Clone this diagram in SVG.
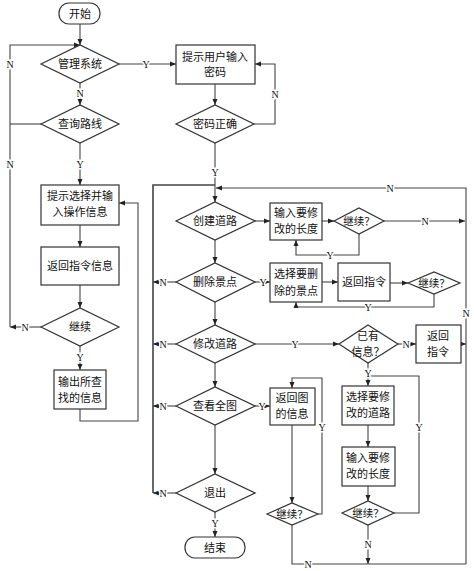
<svg xmlns="http://www.w3.org/2000/svg" width="474" height="571" viewBox="0 0 474 571">
<defs>
<marker id="a" markerWidth="6" markerHeight="6" refX="6" refY="3" orient="auto" markerUnits="userSpaceOnUse"><path d="M0,0.5 L6,3 L0,5.5 z" fill="#222"/></marker>
<style>
.n rect,.n polygon{fill:#fff;stroke:#333;stroke-width:1.2}
.n text{font-family:"Noto Sans CJK SC","Liberation Sans",sans-serif;font-size:11px;fill:#111;text-anchor:middle}
.n text.s{font-size:10.5px}
.c path{fill:none;stroke:#444;stroke-width:1.1}
.c path.ar{marker-end:url(#a)}
.l text{font-family:"Liberation Serif",serif;font-size:10px;fill:#111;text-anchor:middle;stroke:#fff;stroke-width:3;paint-order:stroke}
</style>
</defs>
<rect width="474" height="571" fill="#fff"/>
<g class="c">
<path class="ar" d="M80,24 V45"/>
<path class="ar" d="M80,83 V105"/>
<path class="ar" d="M119,64 H176"/>
<path class="ar" d="M80,143 V185"/>
<path d="M41,124 H10"/>
<path class="ar" d="M41,327 H10"/>
<path class="ar" d="M10,327 V45 H80"/>
<path class="ar" d="M80,225 V247"/>
<path class="ar" d="M80,285 V308"/>
<path class="ar" d="M80,346 V370"/>
<path class="ar" d="M80,409 V421 H138 V203 H119"/>
<path class="ar" d="M215,84 V105"/>
<path class="ar" d="M254,124 H275 V64 H255"/>
<path class="ar" d="M215,143 V202"/>
<path d="M153,493 V185 H215" style="stroke-width:1.6"/>
<path class="ar" d="M176,282 H153"/>
<path class="ar" d="M176,344 H153"/>
<path class="ar" d="M176,406 H153"/>
<path class="ar" d="M176,493 H153"/>
<path class="ar" d="M255,221 H270"/>
<path class="ar" d="M322,221 H334"/>
<path class="ar" d="M384,221 H465"/>
<path class="ar" d="M359,234 V255 H296 V240"/>
<path class="ar" d="M215,240 V263"/>
<path class="ar" d="M255,282 H270"/>
<path class="ar" d="M322,282 H338"/>
<path class="ar" d="M390,283 H408"/>
<path class="ar" d="M434,294 V307 H296 V302"/>
<path class="ar" d="M215,302 V325"/>
<path class="ar" d="M255,344 H339"/>
<path class="ar" d="M398,344 H416"/>
<path class="ar" d="M461,344 H466"/>
<path class="ar" d="M368,363 V386"/>
<path class="ar" d="M368,425 V447"/>
<path class="ar" d="M368,486 V501"/>
<path d="M394,513 H419 V376 H368"/>
<path class="ar" d="M368,525 V564"/>
<path class="ar" d="M215,363 V387"/>
<path class="ar" d="M255,406 H270"/>
<path class="ar" d="M292,425 V503"/>
<path class="ar" d="M318,514 H322 V378 H292 V388"/>
<path d="M292,525 V564 H466"/>
<path class="ar" d="M466,564 V188 H216"/>
<path class="ar" d="M215,425 V474"/>
<path class="ar" d="M215,512 V537"/>
</g>
<g class="l">
<text x="80" y="97">N</text>
<text x="146" y="68">Y</text>
<text x="80" y="168">Y</text>
<text x="10" y="68">N</text>
<text x="10" y="168">N</text>
<text x="25" y="331">N</text>
<text x="80" y="361">Y</text>
<text x="275" y="98">N</text>
<text x="215" y="176">Y</text>
<text x="163" y="286">N</text>
<text x="163" y="348">N</text>
<text x="163" y="410">N</text>
<text x="163" y="497">N</text>
<text x="425" y="225">N</text>
<text x="330" y="259">Y</text>
<text x="263" y="286">Y</text>
<text x="368" y="311">Y</text>
<text x="295" y="348">Y</text>
<text x="406" y="348">N</text>
<text x="368" y="377">Y</text>
<text x="419" y="431">Y</text>
<text x="368" y="548">N</text>
<text x="262" y="410">Y</text>
<text x="322" y="431">Y</text>
<text x="308" y="567.5">N</text>
<text x="390" y="192">N</text>
<text x="466" y="317">N</text>
<text x="215" y="527">Y</text>
</g>
<g class="n" id="start"><rect x="59" y="3" width="41" height="21" rx="10"/><text x="80" y="17.5">开始</text></g>
<g class="n" id="d1"><polygon points="41,64 80,45 119,64 80,83"/><text x="80" y="68">管理系统</text></g>
<g class="n" id="d2"><polygon points="41,124 80,105 119,124 80,143"/><text x="80" y="128">查询路线</text></g>
<g class="n" id="b1"><rect x="41" y="185" width="78" height="40"/><text x="80" y="200">提示选择并输</text><text x="80" y="216">入操作信息</text></g>
<g class="n" id="b2"><rect x="41" y="247" width="78" height="38"/><text x="80" y="270">返回指令信息</text></g>
<g class="n" id="d3"><polygon points="41,327 80,308 119,327 80,346"/><text x="80" y="331">继续</text></g>
<g class="n" id="b3"><rect x="54" y="370" width="52" height="39"/><text x="80" y="386">输出所查</text><text x="80" y="402">找的信息</text></g>
<g class="n" id="b4"><rect x="176" y="45" width="79" height="39"/><text x="215" y="61">提示用户输入</text><text x="215" y="76">密码</text></g>
<g class="n" id="d4"><polygon points="176,124 215,105 254,124 215,143"/><text x="215" y="128">密码正确</text></g>
<g class="n" id="d5"><polygon points="176,221 215,202 255,221 215,240"/><text x="215" y="225">创建道路</text></g>
<g class="n" id="b5"><rect x="270" y="203" width="52" height="37"/><text x="296" y="217">输入要修</text><text x="296" y="233">改的长度</text></g>
<g class="n" id="d6"><polygon points="334,221 359,208 384,221 359,234"/><text class="s" x="359" y="225">继续？</text></g>
<g class="n" id="d7"><polygon points="176,282 215,263 255,282 215,302"/><text x="215" y="286">删除景点</text></g>
<g class="n" id="b6"><rect x="270" y="263" width="52" height="39"/><text x="296" y="278">选择要删</text><text x="296" y="295">除的景点</text></g>
<g class="n" id="b7"><rect x="338" y="263" width="52" height="38"/><text x="364" y="286">返回指令</text></g>
<g class="n" id="d8"><polygon points="408,283 434,272 460,283 434,294"/><text class="s" x="434" y="287">继续？</text></g>
<g class="n" id="d9"><polygon points="176,344 215,325 255,344 215,363"/><text x="215" y="348">修改道路</text></g>
<g class="n" id="d10"><polygon points="339,344 368,325 398,344 368,363"/><text x="368" y="340">已有</text><text x="368" y="356">信息？</text></g>
<g class="n" id="b8"><rect x="416" y="325" width="45" height="38"/><text x="438" y="340">返回</text><text x="438" y="356">指令</text></g>
<g class="n" id="b9"><rect x="342" y="386" width="52" height="39"/><text x="368" y="401">选择要修</text><text x="368" y="417">改的道路</text></g>
<g class="n" id="b10"><rect x="342" y="447" width="53" height="39"/><text x="368" y="462">输入要修</text><text x="368" y="478">改的长度</text></g>
<g class="n" id="d11"><polygon points="342,513 368,501 394,513 368,525"/><text class="s" x="368" y="517">继续？</text></g>
<g class="n" id="d12"><polygon points="176,406 215,387 255,406 215,425"/><text x="215" y="410">查看全图</text></g>
<g class="n" id="b11"><rect x="270" y="388" width="45" height="37"/><text x="292" y="402">返回图</text><text x="292" y="418">的信息</text></g>
<g class="n" id="d13"><polygon points="267,514 292,503 318,514 292,525"/><text class="s" x="292" y="518">继续？</text></g>
<g class="n" id="d14"><polygon points="176,493 215,474 255,493 215,512"/><text x="215" y="497">退出</text></g>
<g class="n" id="end"><rect x="185" y="537" width="60" height="21" rx="10"/><text x="215" y="551.5">结束</text></g>
</svg>
